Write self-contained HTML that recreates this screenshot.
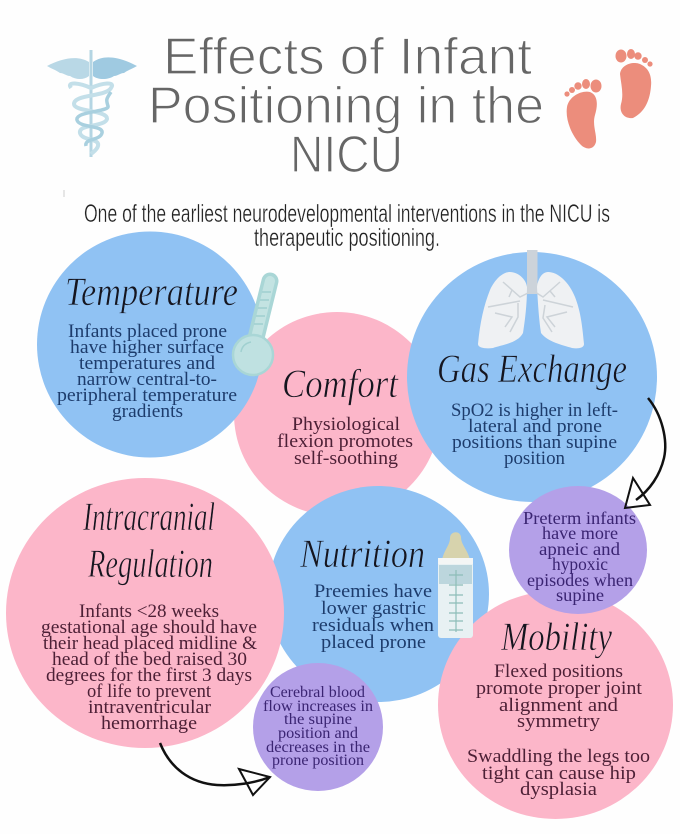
<!DOCTYPE html>
<html lang="en">
<head>
<meta charset="utf-8">
<title>Effects of Infant Positioning in the NICU</title>
<style>
html,body{margin:0;padding:0;background:#fefefe}
svg{display:block}
.t{font-family:"Liberation Sans",sans-serif;font-size:52px;fill:#666;stroke:#fefefe;stroke-width:1.3px}
.s{font-family:"Liberation Sans",sans-serif;font-size:25px;fill:#222;stroke:#fefefe;stroke-width:.35px}
.b{font-family:"Liberation Serif",serif;font-size:19px}
.p{font-family:"Liberation Serif",serif;font-size:17.500px;fill:#3a2472}
.q{font-family:"Liberation Serif",serif;font-size:16px;fill:#3a2472}
.bl{fill:#1d3c6c}
.pk{fill:#4d2036}
.h{font-family:"Liberation Serif",serif;font-style:italic;fill:#15151f;font-size:40px;stroke-width:.7px}
.hb{stroke:#90c2f3}
.hp{stroke:#fcb6c9}
</style>
</head>
<body>
<svg width="680" height="834" viewBox="0 0 680 834" xmlns="http://www.w3.org/2000/svg">
<rect width="680" height="834" fill="#fefefe"/>

<!-- title -->
<text class="t" x="163" y="74" textLength="369" lengthAdjust="spacingAndGlyphs">Effects of Infant</text>
<text class="t" x="148" y="123" textLength="396" lengthAdjust="spacingAndGlyphs">Positioning in the</text>
<text class="t" x="290" y="172" textLength="113" lengthAdjust="spacingAndGlyphs">NICU</text>
<text class="s" x="84" y="222" textLength="526" lengthAdjust="spacingAndGlyphs">One of the earliest neurodevelopmental interventions in the NICU is</text>
<text class="s" x="254" y="246" textLength="186" lengthAdjust="spacingAndGlyphs">therapeutic positioning.</text>

<!-- caduceus -->
<g>
<path d="M89 62 C78 55 62 58 47 66 C52 69 56 70 60 73 C64 73 66 76 70 76 C76 80 84 80 89 76Z" fill="#b9d8e6"/>
<path d="M93 62 C104 54 120 57 137 66 C132 69 128 70 124 73 C120 73 118 76 114 76 C108 80 98 80 93 76Z" fill="#9fcae1"/>
<path d="M91 50 L91 157" stroke="#b4d5e3" stroke-width="3"/>
<path d="M71 88 C66 81 80 83 91 88 C102 83 116 81 111 88 C106 97 74 94 74 104 C74 112 108 110 107 119 C105 127 78 124 80 133 C82 141 100 138 98 146 C97 150 93 152 91 154" fill="none" stroke="#c3dfe9" stroke-width="4"/>
<path d="M111 92 C106 99 106 100 108 106 C110 112 75 111 77 120 C79 128 104 125 102 133 C100 141 84 138 86 146" fill="none" stroke="#a9d0df" stroke-width="3.500"/>
</g>

<!-- feet -->
<g fill="#ec8d7c">
<path d="M567 107 C569 96 582 90 590 92 C598 95 598 105 595 115 C592 125 597 134 596 142 C594 150 586 150 581 145 C572 136 565 120 567 107Z"/>
<ellipse cx="596" cy="86" rx="5.500" ry="6.500"/><ellipse cx="586" cy="84" rx="4" ry="5"/><circle cx="578" cy="86" r="3.700"/><circle cx="572" cy="90" r="3"/><circle cx="567" cy="94" r="2.600"/>
<path d="M620 74 C621 65 632 61 640 64 C649 68 652 76 651 86 C650 100 645 112 633 118 C624 119 619 112 621 104 C624 94 621 84 620 74Z"/>
<ellipse cx="621" cy="56" rx="5.500" ry="6.500"/><ellipse cx="631" cy="54" rx="4" ry="5"/><circle cx="638" cy="56" r="3.700"/><circle cx="645" cy="60" r="3"/><circle cx="650" cy="64" r="2.600"/>
</g>
<rect x="63" y="190" width="2" height="7" fill="#e6e6e6"/>

<!-- circles -->
<ellipse cx="337" cy="414" rx="103" ry="102" fill="#fcb6c9"/>
<circle cx="150" cy="344.500" r="113" fill="#90c2f3"/>
<circle cx="532" cy="377" r="125" fill="#90c2f3"/>
<ellipse cx="378.500" cy="594" rx="110.500" ry="108" fill="#90c2f3"/>
<ellipse cx="145" cy="613" rx="139" ry="135" fill="#fcb6c9"/>
<ellipse cx="555.500" cy="705" rx="117.500" ry="114" fill="#fcb6c9"/>
<ellipse cx="578" cy="550" rx="69" ry="64" fill="#b4a0e8"/>
<ellipse cx="318" cy="727" rx="65" ry="64" fill="#b4a0e8"/>

<!-- thermometer -->
<g>
<path d="M255 342 L270 281" stroke="#a9d6d6" stroke-width="17" stroke-linecap="round"/>
<path d="M255 342 L270 281" stroke="#c3e3e2" stroke-width="10" stroke-linecap="round"/>
<circle cx="253" cy="355" r="20" fill="#bfe1e1" stroke="#a9d6d6" stroke-width="2.500"/>
<path d="M262 292h9M260 300h9M258 308h9M256 316h9M254 324h9" stroke="#9fcfd0" stroke-width="1.500"/>
<path d="M241 352 C242 346 246 343 251 342" fill="none" stroke="#a0d0d0" stroke-width="1.500"/>
</g>

<!-- lungs -->
<g>
<rect x="527" y="250" width="10.500" height="44" fill="#ccd3da"/>
<path d="M510 272 C518 272 526 279 527 287 C527 305 525 320 523 333 C518 343 502 345 493 348 C486 349 478 348 478 344 C480 322 484 305 490 290 C495 279 503 272 510 272Z" fill="#eff1f3"/>
<path d="M548 272 C542 272 538 279 537 287 C538 305 539 320 541 333 C548 342 562 345 572 348 C578 349 584 348 584 344 C582 322 580 310 575 297 C569 282 558 272 548 272Z" fill="#eff1f3"/>
<path d="M530 292 L520 297 L503 282 M512 290 L509 297 M520 301 L488 307 M518 303 L518 317 L510 332 M495 313 L512 317 L505 327 M535 292 L543 297 L560 282 M550 291 L555 297 M543 300 L573 307 M545 305 L543 318 L552 332 M567 312 L547 317 L555 327" fill="none" stroke="#cdd3d8" stroke-width="1.500"/>
</g>

<!-- bottle -->
<g>
<path d="M442 560 C444 550 450 545 450 538 C450 531 460 530 461 537 C461 545 468 550 470 560Z" fill="#d7d3ad"/>
<rect x="438" y="558" width="35" height="80" rx="3" fill="#e8f1f3"/>
<rect x="438" y="558" width="35" height="6" fill="#f4f6f5"/>
<rect x="439" y="565" width="33" height="19" fill="#bcd6dd"/>
<path d="M456 570V632M449 575h14M449 585h14M449 595h14M449 603h14M449 613h14M449 621h14M449 630h14" stroke="#8dbdb8" stroke-width="1.200" fill="none"/>
</g>

<!-- headings -->
<text class="h hb" x="65" y="305" textLength="173" lengthAdjust="spacingAndGlyphs">Temperature</text>
<text class="h hp" x="282" y="397" textLength="116" lengthAdjust="spacingAndGlyphs">Comfort</text>
<text class="h hb" x="437" y="382" textLength="190" lengthAdjust="spacingAndGlyphs">Gas Exchange</text>
<text class="h hp" x="83" y="530" textLength="132" lengthAdjust="spacingAndGlyphs">Intracranial</text>
<text class="h hp" x="88" y="577" textLength="125" lengthAdjust="spacingAndGlyphs">Regulation</text>
<text class="h hb" x="300" y="567" textLength="125" lengthAdjust="spacingAndGlyphs">Nutrition</text>
<text class="h hp" x="501" y="650" textLength="111" lengthAdjust="spacingAndGlyphs">Mobility</text>

<!-- temperature -->
<g class="b bl">
<text x="68" y="337" textLength="159" lengthAdjust="spacingAndGlyphs">Infants placed prone</text>
<text x="70" y="353" textLength="154" lengthAdjust="spacingAndGlyphs">have higher surface</text>
<text x="79" y="369" textLength="136" lengthAdjust="spacingAndGlyphs">temperatures and</text>
<text x="77" y="385" textLength="140" lengthAdjust="spacingAndGlyphs">narrow central-to-</text>
<text x="57" y="401" textLength="180" lengthAdjust="spacingAndGlyphs">peripheral temperature</text>
<text x="112" y="417" textLength="71" lengthAdjust="spacingAndGlyphs">gradients</text>
</g>
<!-- comfort -->
<g class="b pk">
<text x="292" y="430" textLength="108" lengthAdjust="spacingAndGlyphs">Physiological</text>
<text x="277" y="447" textLength="136" lengthAdjust="spacingAndGlyphs">flexion promotes</text>
<text x="294" y="464" textLength="104" lengthAdjust="spacingAndGlyphs">self-soothing</text>
</g>
<!-- gas -->
<g class="b bl">
<text x="451" y="416" textLength="167" lengthAdjust="spacingAndGlyphs">SpO2 is higher in left-</text>
<text x="468" y="432" textLength="134" lengthAdjust="spacingAndGlyphs">lateral and prone</text>
<text x="452" y="448" textLength="165" lengthAdjust="spacingAndGlyphs">positions than supine</text>
<text x="504" y="464" textLength="61" lengthAdjust="spacingAndGlyphs">position</text>
</g>
<!-- preterm -->
<g class="p">
<text x="523" y="524" textLength="113" lengthAdjust="spacingAndGlyphs">Preterm infants</text>
<text x="542" y="539" textLength="76" lengthAdjust="spacingAndGlyphs">have more</text>
<text x="539" y="555" textLength="81" lengthAdjust="spacingAndGlyphs">apneic and</text>
<text x="552" y="570" textLength="56" lengthAdjust="spacingAndGlyphs">hypoxic</text>
<text x="527" y="586" textLength="106" lengthAdjust="spacingAndGlyphs">episodes when</text>
<text x="556" y="601" textLength="48" lengthAdjust="spacingAndGlyphs">supine</text>
</g>
<!-- intracranial -->
<g class="b pk">
<text x="79" y="617" textLength="140" lengthAdjust="spacingAndGlyphs">Infants &lt;28 weeks</text>
<text x="41" y="633" textLength="216" lengthAdjust="spacingAndGlyphs">gestational age should have</text>
<text x="43" y="649" textLength="214" lengthAdjust="spacingAndGlyphs">their head placed midline &amp;</text>
<text x="52" y="665" textLength="195" lengthAdjust="spacingAndGlyphs">head of the bed raised 30</text>
<text x="46" y="681" textLength="206" lengthAdjust="spacingAndGlyphs">degrees for the first 3 days</text>
<text x="87" y="697" textLength="124" lengthAdjust="spacingAndGlyphs">of life to prevent</text>
<text x="88" y="713" textLength="123" lengthAdjust="spacingAndGlyphs">intraventricular</text>
<text x="101" y="729" textLength="96" lengthAdjust="spacingAndGlyphs">hemorrhage</text>
</g>
<!-- nutrition -->
<g class="b bl">
<text x="314" y="597" textLength="118" lengthAdjust="spacingAndGlyphs">Preemies have</text>
<text x="321" y="614" textLength="105" lengthAdjust="spacingAndGlyphs">lower gastric</text>
<text x="312" y="631" textLength="122" lengthAdjust="spacingAndGlyphs">residuals when</text>
<text x="321" y="648" textLength="105" lengthAdjust="spacingAndGlyphs">placed prone</text>
</g>
<!-- cerebral -->
<g class="q">
<text x="270" y="697" textLength="95" lengthAdjust="spacingAndGlyphs">Cerebral blood</text>
<text x="263" y="711" textLength="110" lengthAdjust="spacingAndGlyphs">flow increases in</text>
<text x="284" y="724" textLength="68" lengthAdjust="spacingAndGlyphs">the supine</text>
<text x="278" y="738" textLength="80" lengthAdjust="spacingAndGlyphs">position and</text>
<text x="266" y="752" textLength="104" lengthAdjust="spacingAndGlyphs">decreases in the</text>
<text x="272" y="765" textLength="92" lengthAdjust="spacingAndGlyphs">prone position</text>
</g>
<!-- mobility -->
<g class="b pk">
<text x="494" y="677" textLength="129" lengthAdjust="spacingAndGlyphs">Flexed positions</text>
<text x="476" y="694" textLength="166" lengthAdjust="spacingAndGlyphs">promote proper joint</text>
<text x="499" y="711" textLength="119" lengthAdjust="spacingAndGlyphs">alignment and</text>
<text x="517" y="727" textLength="83" lengthAdjust="spacingAndGlyphs">symmetry</text>
<text x="467" y="762" textLength="183" lengthAdjust="spacingAndGlyphs">Swaddling the legs too</text>
<text x="482" y="779" textLength="154" lengthAdjust="spacingAndGlyphs">tight can cause hip</text>
<text x="520" y="795" textLength="77" lengthAdjust="spacingAndGlyphs">dysplasia</text>
</g>

<!-- arrows -->
<g fill="none" stroke="#111" stroke-width="2">
<path d="M648 398 C662 415 668 440 664 458 C660 475 650 490 636 500" stroke-width="2.500"/>
<path d="M633 478 L650 505 L625 508Z"/>
<path d="M160 743 C170 768 190 783 217 785 C235 786 255 783 270 777" stroke-width="2.500"/>
<path d="M239 769 L270 777 L253 795Z"/>
</g>
</svg>
</body>
</html>
